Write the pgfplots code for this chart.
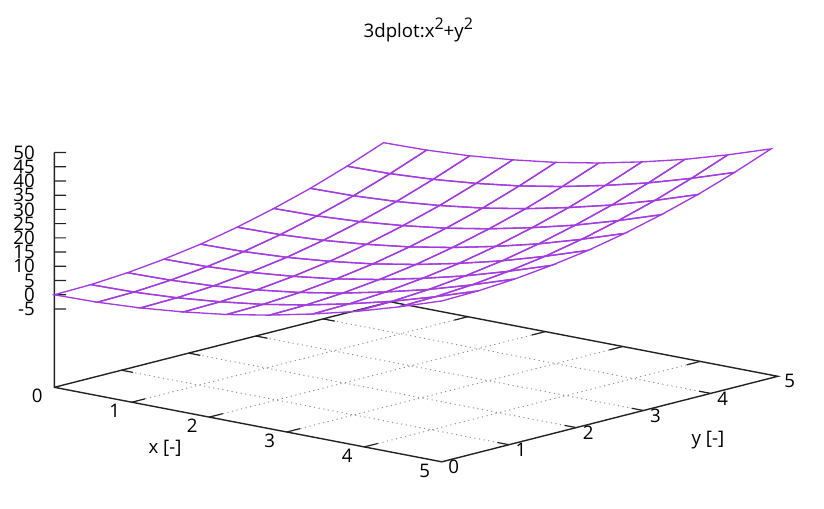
\documentclass[border=0pt]{standalone}
\usepackage{fontspec}
\setmainfont{Open Sans}
\usepackage{pgfplots}
\pgfplotsset{compat=1.18}
\definecolor{wire}{RGB}{162,60,222}
\definecolor{axisblack}{RGB}{35,35,35}
\def\u{0.75pt}
\newcommand{\tl}[1]{{\fontsize{14pt}{15pt}\selectfont #1}}
\begin{document}
\begin{tikzpicture}
\begin{axis}[
    hide axis, clip=false,
    x={(58.125pt,-11.175pt)}, y={(50.4pt,12.825pt)}, z={(0pt,2.135pt)},
    xmin=0, xmax=5, ymin=0, ymax=5, zmin=-32.5, zmax=50,
    unbounded coords=jump,
    colormap={wire}{color=(wire) color=(wire)},
]
% base grid
\addplot3[gray!85, line width=0.7pt, dash pattern=on 0.9pt off 2.6pt] coordinates {
    (1,0,-32.5) (1,5,-32.5) (1,5,nan)
    (2,0,-32.5) (2,5,-32.5) (2,5,nan)
    (3,0,-32.5) (3,5,-32.5) (3,5,nan)
    (4,0,-32.5) (4,5,-32.5) (4,5,nan)
    (0,1,-32.5) (5,1,-32.5) (5,1,nan)
    (0,2,-32.5) (5,2,-32.5) (5,2,nan)
    (0,3,-32.5) (5,3,-32.5) (5,3,nan)
    (0,4,-32.5) (5,4,-32.5)
};
% frame and z axis
\addplot3[axisblack, line width=1.05pt] coordinates {
    (0,0,50) (0,0,-32.5) (5,0,-32.5) (5,5,-32.5) (0,5,-32.5) (0,0,-32.5)
};
% ticks
\addplot3[axisblack, line width=0.9pt] coordinates {
    (1,0,-32.5) (1,0.2,-32.5) (1,0.2,nan)
    (2,0,-32.5) (2,0.2,-32.5) (2,0.2,nan)
    (3,0,-32.5) (3,0.2,-32.5) (3,0.2,nan)
    (4,0,-32.5) (4,0.2,-32.5) (4,0.2,nan)
    (1,5,-32.5) (1,4.8,-32.5) (1,4.8,nan)
    (2,5,-32.5) (2,4.8,-32.5) (2,4.8,nan)
    (3,5,-32.5) (3,4.8,-32.5) (3,4.8,nan)
    (4,5,-32.5) (4,4.8,-32.5) (4,4.8,nan)
    (0,1,-32.5) (0.15,1,-32.5) (0.15,1,nan)
    (0,2,-32.5) (0.15,2,-32.5) (0.15,2,nan)
    (0,3,-32.5) (0.15,3,-32.5) (0.15,3,nan)
    (0,4,-32.5) (0.15,4,-32.5) (0.15,4,nan)
    (5,1,-32.5) (4.85,1,-32.5) (4.85,1,nan)
    (5,2,-32.5) (4.85,2,-32.5) (4.85,2,nan)
    (5,3,-32.5) (4.85,3,-32.5) (4.85,3,nan)
    (5,4,-32.5) (4.85,4,-32.5) (4.85,4,nan)
    (0,0,-5) (0.086,0.075,-5) (0.086,0.075,nan)
    (0,0,0) (0.086,0.075,0) (0.086,0.075,nan)
    (0,0,5) (0.086,0.075,5) (0.086,0.075,nan)
    (0,0,10) (0.086,0.075,10) (0.086,0.075,nan)
    (0,0,15) (0.086,0.075,15) (0.086,0.075,nan)
    (0,0,20) (0.086,0.075,20) (0.086,0.075,nan)
    (0,0,25) (0.086,0.075,25) (0.086,0.075,nan)
    (0,0,30) (0.086,0.075,30) (0.086,0.075,nan)
    (0,0,35) (0.086,0.075,35) (0.086,0.075,nan)
    (0,0,40) (0.086,0.075,40) (0.086,0.075,nan)
    (0,0,45) (0.086,0.075,45) (0.086,0.075,nan)
    (0,0,50) (0.086,0.075,50)
};
% surface
\addplot3[mesh, mesh/rows=10, mesh/cols=10, line width=1pt] table[row sep=\\] {
x y z\\
0 0 0\\ 0.556 0 0.3\\ 1.111 0 1.2\\ 1.667 0 2.7\\ 2.222 0 4.7\\ 2.778 0 7.4\\ 3.333 0 10.7\\ 3.889 0 14.5\\ 4.444 0 19\\ 5 0 24\\
0 0.544 0.3\\ 0.556 0.544 0.6\\ 1.111 0.544 1.5\\ 1.667 0.544 3\\ 2.222 0.544 5\\ 2.778 0.544 7.7\\ 3.333 0.544 11\\ 3.889 0.544 14.8\\ 4.444 0.544 19.3\\ 5 0.544 24.3\\
0 1.089 1.2\\ 0.556 1.089 1.5\\ 1.111 1.089 2.4\\ 1.667 1.089 3.9\\ 2.222 1.089 5.9\\ 2.778 1.089 8.6\\ 3.333 1.089 11.9\\ 3.889 1.089 15.7\\ 4.444 1.089 20.2\\ 5 1.089 25.2\\
0 1.633 2.7\\ 0.556 1.633 3\\ 1.111 1.633 3.9\\ 1.667 1.633 5.4\\ 2.222 1.633 7.4\\ 2.778 1.633 10.1\\ 3.333 1.633 13.4\\ 3.889 1.633 17.2\\ 4.444 1.633 21.7\\ 5 1.633 26.7\\
0 2.178 4.7\\ 0.556 2.178 5\\ 1.111 2.178 5.9\\ 1.667 2.178 7.4\\ 2.222 2.178 9.4\\ 2.778 2.178 12.1\\ 3.333 2.178 15.4\\ 3.889 2.178 19.2\\ 4.444 2.178 23.7\\ 5 2.178 28.7\\
0 2.722 7.4\\ 0.556 2.722 7.7\\ 1.111 2.722 8.6\\ 1.667 2.722 10.1\\ 2.222 2.722 12.1\\ 2.778 2.722 14.8\\ 3.333 2.722 18.1\\ 3.889 2.722 21.9\\ 4.444 2.722 26.4\\ 5 2.722 31.4\\
0 3.267 10.7\\ 0.556 3.267 11\\ 1.111 3.267 11.9\\ 1.667 3.267 13.4\\ 2.222 3.267 15.4\\ 2.778 3.267 18.1\\ 3.333 3.267 21.4\\ 3.889 3.267 25.2\\ 4.444 3.267 29.7\\ 5 3.267 34.7\\
0 3.811 14.5\\ 0.556 3.811 14.8\\ 1.111 3.811 15.7\\ 1.667 3.811 17.2\\ 2.222 3.811 19.2\\ 2.778 3.811 21.9\\ 3.333 3.811 25.2\\ 3.889 3.811 29\\ 4.444 3.811 33.5\\ 5 3.811 38.5\\
0 4.356 19\\ 0.556 4.356 19.3\\ 1.111 4.356 20.2\\ 1.667 4.356 21.7\\ 2.222 4.356 23.7\\ 2.778 4.356 26.4\\ 3.333 4.356 29.7\\ 3.889 4.356 33.5\\ 4.444 4.356 38\\ 5 4.356 43\\
0 4.9 24\\ 0.556 4.9 24.3\\ 1.111 4.9 25.2\\ 1.667 4.9 26.7\\ 2.222 4.9 28.7\\ 2.778 4.9 31.4\\ 3.333 4.9 34.7\\ 3.889 4.9 38.5\\ 4.444 4.9 43\\ 5 4.9 48\\
};
% tick labels
\pgfplotsinvokeforeach{0,...,5}{
    \node at ([shift={(-17*\u,-9*\u)}]axis cs:#1,0,-32.5) {\tl{#1}};
    \node at ([shift={(12*\u,-5*\u)}]axis cs:5,#1,-32.5) {\tl{#1}};
}
\pgfplotsinvokeforeach{-5,0,...,50}{
    \node[anchor=east, inner xsep=0pt] at ([shift={(-19.3*\u,0)}]axis cs:0,0,#1) {\tl{#1}};
}
\coordinate (O) at (axis cs:0,0,-32.5);
% titles relative to the base corner (54.3, 387.3 px)
\node at ([shift={(110.7*\u,-60.7*\u)}]O) {\tl{x [-]}};
\node at ([shift={(653.7*\u,-52.7*\u)}]O) {\tl{y [-]}};
\node at ([shift={(364*\u,357.3*\u)}]O) {\tl{3dplot:x\raisebox{0.45em}{\fontsize{12pt}{12pt}\selectfont 2}+y\raisebox{0.45em}{\fontsize{12pt}{12pt}\selectfont 2}}};
\end{axis}
\pgfresetboundingbox
\path ([shift={(-54.3*\u,387.3*\u)}]O) rectangle ([shift={(769.7*\u,-120.7*\u)}]O);
\end{tikzpicture}
\end{document}
